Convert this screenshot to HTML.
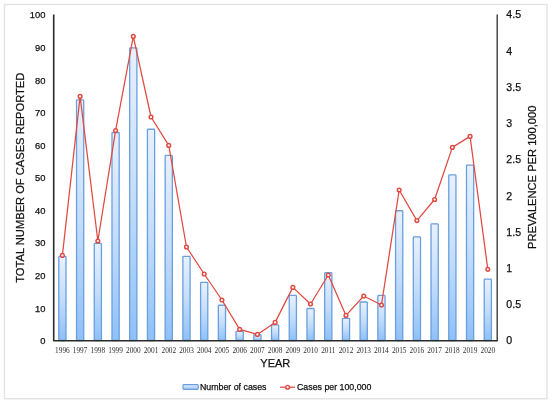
<!DOCTYPE html>
<html lang="en"><head><meta charset="utf-8"><title>Cases chart</title>
<style>
html,body{margin:0;padding:0;background:#fff;}
body{width:550px;height:403px;overflow:hidden;}
svg{display:block;}
text{font-family:"Liberation Sans",Arial,sans-serif;fill:#111;stroke:#111;stroke-width:0.25px;}
.yr text{font-family:"Liberation Serif","DejaVu Serif",serif;font-size:7.3px;fill:#2e2e2e;stroke:none;text-anchor:middle;}
.ly text{font-size:9.4px;text-anchor:end;}
  .ry text{font-size:10.6px;text-anchor:start;}
</style></head><body>
<svg width="550" height="403" viewBox="0 0 550 403">
<defs>
<linearGradient id="bg" x1="0" y1="0" x2="0" y2="1">
<stop offset="0" stop-color="#e8f1fd"/><stop offset="0.5" stop-color="#c4ddfb"/><stop offset="1" stop-color="#8fc0f8"/>
</linearGradient>
<filter id="soft" x="0" y="0" width="550" height="403" filterUnits="userSpaceOnUse"><feGaussianBlur stdDeviation="0.4"/></filter>
</defs>
<rect x="0" y="0" width="550" height="403" fill="#ffffff"/>
<rect x="4.5" y="4.5" width="542.5" height="394.3" fill="#ffffff" stroke="#e3e3e3" stroke-width="1.4"/>
<g filter="url(#soft)">

<g stroke="#6aa0de" stroke-width="1.3" fill="url(#bg)">
<rect x="58.80" y="256.37" width="7.2" height="84.13" rx="0.8"/>
<rect x="76.53" y="99.93" width="7.2" height="240.57" rx="0.8"/>
<rect x="94.25" y="243.33" width="7.2" height="97.17" rx="0.8"/>
<rect x="111.98" y="132.52" width="7.2" height="207.98" rx="0.8"/>
<rect x="129.70" y="47.79" width="7.2" height="292.71" rx="0.8"/>
<rect x="147.43" y="129.27" width="7.2" height="211.23" rx="0.8"/>
<rect x="165.15" y="155.34" width="7.2" height="185.16" rx="0.8"/>
<rect x="182.88" y="256.37" width="7.2" height="84.13" rx="0.8"/>
<rect x="200.60" y="282.44" width="7.2" height="58.06" rx="0.8"/>
<rect x="218.33" y="305.25" width="7.2" height="35.25" rx="0.8"/>
<rect x="236.05" y="331.32" width="7.2" height="9.18" rx="0.8"/>
<rect x="253.78" y="334.58" width="7.2" height="5.92" rx="0.8"/>
<rect x="271.50" y="324.81" width="7.2" height="15.69" rx="0.8"/>
<rect x="289.22" y="295.47" width="7.2" height="45.03" rx="0.8"/>
<rect x="306.95" y="308.51" width="7.2" height="31.99" rx="0.8"/>
<rect x="324.67" y="272.66" width="7.2" height="67.84" rx="0.8"/>
<rect x="342.40" y="318.29" width="7.2" height="22.21" rx="0.8"/>
<rect x="360.12" y="301.99" width="7.2" height="38.51" rx="0.8"/>
<rect x="377.85" y="295.47" width="7.2" height="45.03" rx="0.8"/>
<rect x="395.57" y="210.74" width="7.2" height="129.76" rx="0.8"/>
<rect x="413.30" y="236.81" width="7.2" height="103.69" rx="0.8"/>
<rect x="431.02" y="223.78" width="7.2" height="116.72" rx="0.8"/>
<rect x="448.75" y="174.89" width="7.2" height="165.61" rx="0.8"/>
<rect x="466.47" y="165.11" width="7.2" height="175.39" rx="0.8"/>
<rect x="484.20" y="279.18" width="7.2" height="61.32" rx="0.8"/>
</g>
<path d="M53.7 14.6 L53.7 340.7 L497.2 340.7" fill="none" stroke="#2b2b2b" stroke-width="1.6" stroke-linejoin="round"/>
<path d="M497.2 14.6 L497.2 341.3" fill="none" stroke="#2a2a2a" stroke-width="1.3"/>
<path d="M62.4 255.4 L80.12 96.4 L97.85 241 L115.58 130.6 L133.3 36.4 L151.03 117 L168.75 145.4 L186.48 247 L204.2 274 L221.93 300 L239.65 329.4 L257.38 334.4 L275.1 322.4 L292.82 287.4 L310.55 304 L328.27 275 L346.0 315.4 L363.73 296 L381.45 305 L399.18 190 L416.9 220.6 L434.62 199.5 L452.35 147.4 L470.07 136.4 L487.8 269.3" fill="none" stroke="#e04a42" stroke-width="1.25" stroke-linejoin="round"/>
<g fill="#fff" stroke="#e04a42" stroke-width="1.45">
<circle cx="62.4" cy="255.4" r="1.85"/>
<circle cx="80.12" cy="96.4" r="1.85"/>
<circle cx="97.85" cy="241" r="1.85"/>
<circle cx="115.58" cy="130.6" r="1.85"/>
<circle cx="133.3" cy="36.4" r="1.85"/>
<circle cx="151.03" cy="117" r="1.85"/>
<circle cx="168.75" cy="145.4" r="1.85"/>
<circle cx="186.48" cy="247" r="1.85"/>
<circle cx="204.2" cy="274" r="1.85"/>
<circle cx="221.93" cy="300" r="1.85"/>
<circle cx="239.65" cy="329.4" r="1.85"/>
<circle cx="257.38" cy="334.4" r="1.85"/>
<circle cx="275.1" cy="322.4" r="1.85"/>
<circle cx="292.82" cy="287.4" r="1.85"/>
<circle cx="310.55" cy="304" r="1.85"/>
<circle cx="328.27" cy="275" r="1.85"/>
<circle cx="346.0" cy="315.4" r="1.85"/>
<circle cx="363.73" cy="296" r="1.85"/>
<circle cx="381.45" cy="305" r="1.85"/>
<circle cx="399.18" cy="190" r="1.85"/>
<circle cx="416.9" cy="220.6" r="1.85"/>
<circle cx="434.62" cy="199.5" r="1.85"/>
<circle cx="452.35" cy="147.4" r="1.85"/>
<circle cx="470.07" cy="136.4" r="1.85"/>
<circle cx="487.8" cy="269.3" r="1.85"/>
</g>
<g class="ly">
<text x="45.5" y="344.2">0</text>
<text x="45.5" y="311.6">10</text>
<text x="45.5" y="279.0">20</text>
<text x="45.5" y="246.4">30</text>
<text x="45.5" y="213.8">40</text>
<text x="45.5" y="181.2">50</text>
<text x="45.5" y="148.7">60</text>
<text x="45.5" y="116.1">70</text>
<text x="45.5" y="83.5">80</text>
<text x="45.5" y="50.9">90</text>
<text x="45.5" y="18.3">100</text>
</g>
<g class="ry">
<text x="506.3" y="344.35">0</text>
<text x="506.3" y="308.14">0.5</text>
<text x="506.3" y="271.93">1</text>
<text x="506.3" y="235.72">1.5</text>
<text x="506.3" y="199.51">2</text>
<text x="506.3" y="163.29">2.5</text>
<text x="506.3" y="127.08">3</text>
<text x="506.3" y="90.87">3.5</text>
<text x="506.3" y="54.66">4</text>
<text x="506.3" y="18.45">4.5</text>
</g>
<g class="yr">
<text x="62.4" y="352.6">1996</text>
<text x="80.1" y="352.6">1997</text>
<text x="97.8" y="352.6">1998</text>
<text x="115.6" y="352.6">1999</text>
<text x="133.3" y="352.6">2000</text>
<text x="151.0" y="352.6">2001</text>
<text x="168.8" y="352.6">2002</text>
<text x="186.5" y="352.6">2003</text>
<text x="204.2" y="352.6">2004</text>
<text x="221.9" y="352.6">2005</text>
<text x="239.7" y="352.6">2006</text>
<text x="257.4" y="352.6">2007</text>
<text x="275.1" y="352.6">2008</text>
<text x="292.8" y="352.6">2009</text>
<text x="310.6" y="352.6">2010</text>
<text x="328.3" y="352.6">2011</text>
<text x="346.0" y="352.6">2012</text>
<text x="363.7" y="352.6">2013</text>
<text x="381.4" y="352.6">2014</text>
<text x="399.2" y="352.6">2015</text>
<text x="416.9" y="352.6">2016</text>
<text x="434.6" y="352.6">2017</text>
<text x="452.4" y="352.6">2018</text>
<text x="470.1" y="352.6">2019</text>
<text x="487.8" y="352.6">2020</text>
</g>
<text x="275.3" y="367.2" font-size="11px" text-anchor="middle">YEAR</text>
<text transform="translate(23.7 177.7) rotate(-90)" font-size="11.15px" text-anchor="middle">TOTAL NUMBER OF CASES REPORTED</text>
<text transform="translate(535.6 177.3) rotate(-90)" font-size="11.15px" text-anchor="middle">PREVALENCE PER 100,000</text>
<rect x="183" y="384.6" width="15.2" height="4.8" fill="url(#bg)" stroke="#6aa0de" stroke-width="1.2" rx="0.8"/>
<text x="200" y="390" font-size="8.8px">Number of cases</text>
<path d="M280 387.2 L295 387.2" stroke="#e04a42" stroke-width="1.25"/>
<circle cx="287.6" cy="387.2" r="1.85" fill="#fff" stroke="#e04a42" stroke-width="1.45"/>
<text x="297" y="390" font-size="8.8px">Cases per 100,000</text>
</g>
</svg></body></html>
